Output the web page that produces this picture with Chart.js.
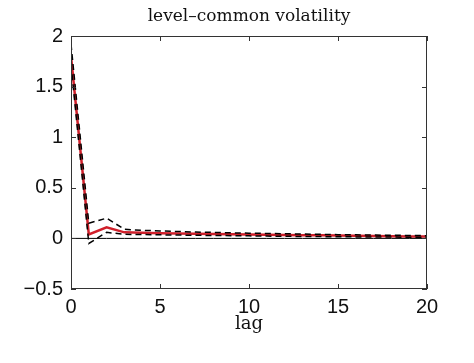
<!DOCTYPE html>
<html><head><meta charset="utf-8">
<script src="https://cdn.jsdelivr.net/npm/chart.js@4"></script>
<style>html,body{margin:0;padding:0;background:#fff}#wrap{width:474px;height:363px}</style>
</head><body><div id="wrap"><canvas id="c"></canvas></div>
<script>
const titleText = "level\u2013common volatility";
const xTitle = "lag";
const lags = [0,1,2,3,4,5,6,7,8,9,10,11,12,13,14,15,16,17,18,19,20];
const median = [1.80,0.04,0.11,0.06,0.055,0.052,0.049,0.046,0.043,0.040,0.038,0.036,0.034,0.032,0.030,0.028,0.026,0.024,0.022,0.020,0.019];
const upper  = [1.92,0.15,0.20,0.09,0.080,0.074,0.068,0.063,0.059,0.055,0.052,0.049,0.046,0.043,0.040,0.037,0.035,0.033,0.031,0.029,0.027];
const lower  = [1.72,-0.05,0.06,0.04,0.038,0.035,0.033,0.031,0.029,0.027,0.025,0.023,0.021,0.019,0.018,0.016,0.015,0.014,0.013,0.012,0.011];
const zeroLine = lags.map(()=>0);
const xTicks = [0,5,10,15,20];
const yTicks = [2,1.5,1,0.5,0,-0.5];
const yTickLabels = ["2","1.5","1","0.5","0","\u22120.5"];

const boxPlugin = {
  id:'box',
  afterDraw(chart){
    const {ctx, chartArea:a, scales:{x,y}} = chart;
    ctx.save();
    ctx.strokeStyle = '#333';
    ctx.lineWidth = 1;
    ctx.strokeRect(a.left+0.5, a.top+0.5, a.right-a.left-1, a.bottom-a.top-1);
    ctx.beginPath();
    const L = 5;
    xTicks.forEach(v=>{
      const px = Math.round(x.getPixelForValue(v))+0.5;
      ctx.moveTo(px,a.bottom); ctx.lineTo(px,a.bottom-L);
      ctx.moveTo(px,a.top); ctx.lineTo(px,a.top+L);
    });
    yTicks.forEach(v=>{
      const py = Math.round(y.getPixelForValue(v))+0.5;
      ctx.moveTo(a.left,py); ctx.lineTo(a.left+L,py);
      ctx.moveTo(a.right,py); ctx.lineTo(a.right-L,py);
    });
    ctx.stroke();
    ctx.fillStyle = '#111';
    ctx.font = '17px "DejaVu Serif"';
    ctx.textAlign = 'center';
    ctx.textBaseline = 'alphabetic';
    ctx.fillText(titleText, (a.left+a.right)/2, 21);
    ctx.font = '18px "DejaVu Serif"';
    ctx.fillText(xTitle, (a.left+a.right)/2, 329);
    ctx.restore();
  }
};

new Chart(document.getElementById('c'), {
  type:'line',
  data:{
    labels:lags,
    datasets:[
      {data:zeroLine, borderColor:'#000', borderWidth:1, pointRadius:0},
      {data:upper, borderColor:'#000', borderWidth:1.5, borderDash:[6,4], pointRadius:0},
      {data:lower, borderColor:'#000', borderWidth:1.5, borderDash:[6,4], pointRadius:0},
      {data:median, borderColor:'#d01f2a', borderWidth:2.5, pointRadius:0}
    ]
  },
  options:{
    responsive:true, maintainAspectRatio:false, animation:false,
    layout:{padding:{top:36,right:47,left:0,bottom:0}},
    plugins:{legend:{display:false}, tooltip:{enabled:false}, title:{display:false}},
    scales:{
      x:{type:'linear', min:0, max:20,
        afterBuildTicks(s){ s.ticks = xTicks.map(v=>({value:v})); },
        afterFit(s){ s.height = 74; },
        grid:{display:false, drawTicks:false}, border:{display:false},
        ticks:{padding:6, color:'#111', font:{family:'Liberation Sans, Arial, sans-serif', size:20}, maxRotation:0}
      },
      y:{type:'linear', min:-0.5, max:2,
        afterBuildTicks(s){ s.ticks = yTicks.map(v=>({value:v})); },
        afterFit(s){ s.width = 71; },
        grid:{display:false, drawTicks:false}, border:{display:false},
        ticks:{padding:8, color:'#111', font:{family:'Liberation Sans, Arial, sans-serif', size:20},
          callback:(v)=>{ const i = yTicks.indexOf(v); return i>=0 ? yTickLabels[i] : ''; }}
      }
    }
  },
  plugins:[boxPlugin]
});
</script></body></html>
